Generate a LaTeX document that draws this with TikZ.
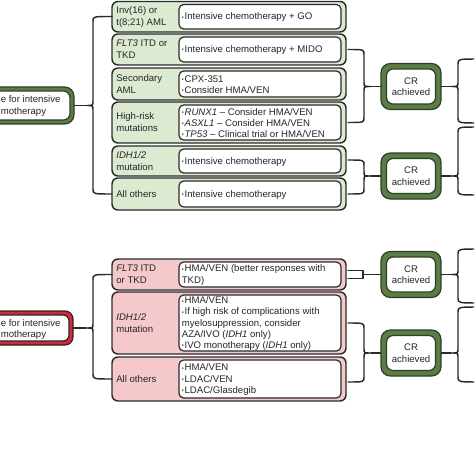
\documentclass[tikz,border=0pt]{standalone}
\usepackage{fontspec}
\setmainfont{Liberation Sans}
\usetikzlibrary{fit}

\definecolor{agText}{HTML}{262626}
\definecolor{agLine}{HTML}{2A2A2A}
\definecolor{agGreen}{HTML}{5B7B47}
\definecolor{agGreenDark}{HTML}{2E4024}
\definecolor{agGreenPale}{HTML}{DCEAD2}
\definecolor{agRed}{HTML}{C1313A}
\definecolor{agRedDark}{HTML}{431A1D}
\definecolor{agPink}{HTML}{F5C8CB}

\newcommand{\bul}{\raisebox{0.4pt}{\fontsize{4.2}{4}\selectfont •}\hspace{0.6pt}}

\tikzset{
    rowG/.style={draw=agLine,line width=1.1pt,fill=agGreenPale,rounded corners=4.5pt,inner sep=0pt},
    rowR/.style={draw=agLine,line width=1.1pt,fill=agPink,rounded corners=4.5pt,inner sep=0pt},
    txtbox/.style={draw=agLine,line width=0.9pt,fill=white,rounded corners=3.5pt,inner sep=0pt},
    ringG/.style={draw=agGreenDark,line width=0.9pt,fill=agGreen,rounded corners=7pt,inner sep=0pt},
    ringR/.style={draw=agRedDark,line width=0.9pt,fill=agRed,rounded corners=6pt,inner sep=0pt},
    ringin/.style={draw=agGreenDark,line width=0.9pt,fill=white,rounded corners=5pt,inner sep=0pt},
    ringinR/.style={draw=agRedDark,line width=0.9pt,fill=white,rounded corners=4.5pt,inner sep=0pt},
    cat/.style={anchor=west,align=left,inner sep=0pt,text=agText,font=\fontsize{7.2}{9}\selectfont},
    rx/.style={align=left,inner sep=0pt,text=agText,font=\fontsize{7.2}{8.3}\selectfont},
    brace/.style={draw=agLine,line width=1.1pt},
}

% one category row: name, top, bottom, row style, category, treatment
\newcommand{\catrow}[6]{%
    \node[#4,fit={(112,#2) (346,#3)}] (#1) {};
    \node[txtbox,fit={(179,#2+3) (341,#3-3)}] (#1b) {};
    \node[cat] (#1c) at ([xshift=3.6pt]#1.west) {#5};
    \node[rx,anchor=west] (#1x) at ([xshift=2.4pt,yshift=-0.4pt]#1b.west) {#6};
}

% CR achieved box: name, centre y
\newcommand{\crbox}[2]{%
    \node[ringG,fit={(381,#2-23) (441,#2+23)}] (#1) {};
    \node[ringin,fit={(386.5,#2-17.5) (435.5,#2+17.5)}] (#1i) {};
    \node[rx,align=center,font=\fontsize{7.2}{8.6}\selectfont] (#1x) at (#1) {CR\\achieved};
}

% brace with its point to the left: x, arm end, top, point, bottom
\newcommand{\openbrace}[5]{%
    \draw[brace] (#2,#3) .. controls (#1,#3) .. (#1,#3+5) -- (#1,#4-4)
        .. controls (#1,#4) .. (#1-7,#4) .. controls (#1,#4) .. (#1,#4+4)
        -- (#1,#5-5) .. controls (#1,#5) .. (#2,#5);
}
% brace with its point to the right
\newcommand{\shutbrace}[5]{%
    \draw[brace] (#2,#3) .. controls (#1,#3) .. (#1,#3+5) -- (#1,#4-4)
        .. controls (#1,#4) .. (#1+7,#4) .. controls (#1,#4) .. (#1,#4+4)
        -- (#1,#5-5) .. controls (#1,#5) .. (#2,#5);
}

\begin{document}
\begin{tikzpicture}[x=0.75pt,y=-0.75pt,line cap=round,line join=round]
\useasboundingbox (0,0) rectangle (474,474);
\clip (0,0) rectangle (474,474);

% ---------- upper (green) part ----------
\node[ringG,fit={(-20,87) (74,124)}] (gl) {};
\node[ringin,fit={(-20,91) (70,120)}] (gli) {};
\node[rx,anchor=west] (glx) at (0.5,106) {e for intensive\\motherapy};

\catrow{g1}{1.5}{32}{rowG}{Inv(16) or\\t(8;21) AML}{\bul Intensive chemotherapy + GO}
\catrow{g2}{34}{65}{rowG}{\textit{FLT3} ITD or\\TKD}{\bul Intensive chemotherapy + MIDO}
\catrow{g3}{68}{100}{rowG}{Secondary\\AML}{\bul CPX-351\\\bul Consider HMA/VEN}
\catrow{g4}{102}{143}{rowG}{High-risk\\mutations}{\bul\textit{RUNX1} -- Consider HMA/VEN\\\bul\textit{ASXL1} -- Consider HMA/VEN\\\bul\textit{TP53} -- Clinical trial or HMA/VEN}
\catrow{g5}{146}{176}{rowG}{\textit{IDH1/2}\\mutation}{\bul Intensive chemotherapy}
\catrow{g6}{178}{210}{rowG}{All others}{\bul Intensive chemotherapy}

\crbox{cr1}{86.5}
\crbox{cr2}{176}

\coordinate (gtip) at (86,105.5);
\openbrace{93}{112}{16.5}{105.5}{194}
\draw[brace] (gl.east) -- (gtip);

\coordinate (g24tip) at (371,86.5);
\shutbrace{364}{348}{49.5}{86.5}{122.5}
\draw[brace] (g24tip) -- (cr1.west);

\coordinate (g56tip) at (371,176);
\shutbrace{364}{348}{160}{176}{194}
\draw[brace] (g56tip) -- (cr2.west);

\coordinate (cr1tip) at (451,86.5);
\openbrace{458}{480}{59}{86.5}{123}
\draw[brace] (cr1.east) -- (cr1tip);

\coordinate (cr2tip) at (451,176);
\openbrace{458}{480}{127}{176}{195}
\draw[brace] (cr2.east) -- (cr2tip);

% ---------- lower (red) part ----------
\node[ringR,fit={(-20,311) (73,345)}] (rl) {};
\node[ringinR,fit={(-20,315) (69,341)}] (rli) {};
\node[rx,anchor=west] (rlx) at (0.5,329.5) {e for intensive\\motherapy};

\catrow{ra}{259}{290}{rowR}{\textit{FLT3} ITD\\or TKD}{\bul HMA/VEN (better responses with\\TKD)}
\catrow{rb}{292}{354}{rowR}{\textit{IDH1/2}\\mutation}{\bul HMA/VEN\\\bul If high risk of complications with\\myelosuppression, consider\\AZA/IVO (\textit{IDH1} only)\\\bul IVO monotherapy (\textit{IDH1} only)}
\catrow{rc}{357}{401}{rowR}{All others}{\bul HMA/VEN\\\bul LDAC/VEN\\\bul LDAC/Glasdegib}

\crbox{cr3}{274.5}
\crbox{cr4}{353}

\coordinate (rtip) at (86,328);
\openbrace{93}{112}{274.5}{328}{379}
\draw[brace] (rl.east) -- (rtip);

\coordinate (ratip) at (363,274.5);
\draw[brace] (348,270.5) -| (363,278.5) -- (348,278.5);
\draw[brace] (ratip) -- (cr3.west);

\coordinate (rbctip) at (371,353);
\shutbrace{364}{348}{323}{353}{382}
\draw[brace] (rbctip) -- (cr4.west);

\coordinate (cr3tip) at (451,274.5);
\openbrace{458}{480}{249}{274.5}{303}
\draw[brace] (cr3.east) -- (cr3tip);

\coordinate (cr4tip) at (451,353);
\openbrace{458}{480}{307}{353}{382}
\draw[brace] (cr4.east) -- (cr4tip);
\end{tikzpicture}
\end{document}
